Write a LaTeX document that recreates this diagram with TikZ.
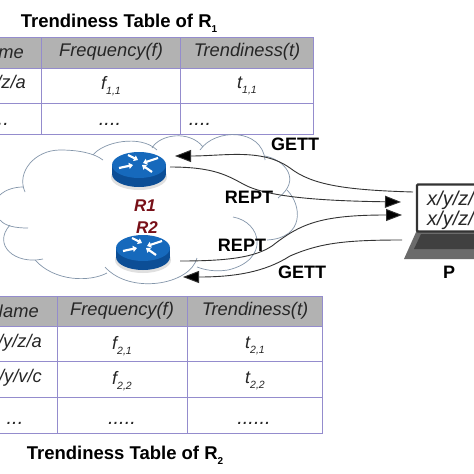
\documentclass[tikz,border=0pt]{standalone}
\usepackage{fontspec}
\setmainfont{Liberation Sans}
\usetikzlibrary{arrows.meta,calc}
\definecolor{gridline}{RGB}{148,140,205}
\definecolor{headgray}{RGB}{178,178,178}
\definecolor{cloudline}{RGB}{132,150,170}
\definecolor{routerdark}{RGB}{12,78,150}
\definecolor{routertop}{RGB}{22,105,188}
\definecolor{rlabel}{RGB}{120,16,24}
\tikzset{
  cell/.style={font=\itshape\fontsize{18.3}{21}\selectfont,text=black!85,inner sep=0pt},
  headcell/.style={cell},
  dotcell/.style={cell,font=\itshape\fontsize{20}{22}\selectfont},
  tabtitle/.style={font=\bfseries\fontsize{18.5}{21}\selectfont,inner sep=0pt},
  msg/.style={font=\bfseries\fontsize{18}{21}\selectfont,inner sep=0pt},
  rname/.style={font=\bfseries\itshape\fontsize{17}{20}\selectfont,text=rlabel,inner sep=0pt},
  pathtext/.style={cell,anchor=west,font=\itshape\fontsize{20}{22}\selectfont},
  cloudarc/.style={cloudline,line width=.7pt},
  link/.style={black!80,line width=.9pt,-{Triangle[length=16pt,width=12pt,fill=black]}},
  arrowmark/.style={white,line width=2.2pt,-{Triangle[length=4pt,width=6pt]}},
}
\newcommand{\subbed}[2]{{\fontsize{18}{20}\selectfont #1}\raisebox{-5pt}{\fontsize{10.5}{11}\selectfont #2}}
\newcommand{\tabsub}[1]{\raisebox{-5pt}{\fontsize{10}{10}\selectfont #1}}
% router drawn round the named node #1
\newcommand{\routerdisc}[3]{
  \node[inner sep=0pt,minimum width=54pt,minimum height=34pt] (#1) at (#2,#3) {};
  \fill[black!12] (#2,#3+7) ellipse (28 and 13);
  \fill[routerdark] (#2,#3+4) ellipse (27 and 13);
  \fill[routerdark] (#2-27,#3-5) rectangle (#2+27,#3+4);
  \fill[routertop] (#2,#3-5) ellipse (27 and 13);
  \draw[arrowmark] (#2-20,#3-2) -- (#2-6,#3-5);
  \draw[arrowmark] (#2+19,#3-12) -- (#2+4,#3-7);
  \draw[arrowmark] (#2-11,#3-15) -- (#2-1,#3-10);
  \draw[arrowmark] (#2+13,#3+2) -- (#2+3,#3-5);
}
\begin{document}
\begin{tikzpicture}[x=1pt,y=-1pt]
  \useasboundingbox (0,0) rectangle (474,474);
  \clip (0,0) rectangle (474,474);
  \fill[white] (0,0) rectangle (474,474);

  % table of R1
  \node[tabtitle] (titleone) at (119,23) {Trendiness Table of R\tabsub{1}};
  \fill[headgray] (-2,37) rectangle (313,68);
  \draw[gridline] (-2,37) rectangle (313,134);
  \draw[gridline] (-2,68) -- (313,68) (-2,103) -- (313,103);
  \draw[gridline] (41.5,37) -- (41.5,134) (180.5,37) -- (180.5,134);
  \node[headcell,anchor=east] (onehname) at (24,52) {Name};
  \node[headcell] (onehfreq) at (111,52) {Frequency(f)};
  \node[headcell] (onehtrend) at (247,52) {Trendiness(t)};
  \node[cell,anchor=east] (onename) at (26,84) {x/y/z/a};
  \node[cell] (onefreq) at (111,86) {\subbed{f}{1,1}};
  \node[cell] (onetrend) at (247,86) {\subbed{t}{1,1}};
  \node[dotcell,anchor=east] (onedotsa) at (9,124) {....};
  \node[dotcell] (onedotsb) at (110,124) {....};
  \node[dotcell] (onedotsc) at (200,124) {....};

  % cloud
  \draw[cloudarc] (0,195) .. controls (5,190) and (14,187) .. (23,187);
  \draw[cloudarc] (25,192) .. controls (16,172) and (35,150) .. (60,150) .. controls (78,150) and (94,153) .. (103,160);
  \draw[cloudarc] (93,155) .. controls (103,142) and (140,134) .. (157,150);
  \draw[cloudarc] (152,148) .. controls (160,134) and (190,130) .. (203,147);
  \draw[cloudarc] (200,150) .. controls (215,128) and (262,128) .. (265,160);
  \draw[cloudarc] (265,156) .. controls (285,160) and (302,180) .. (278,198);
  \draw[cloudarc] (287,190) .. controls (302,205) and (305,238) .. (267,240);
  \draw[cloudarc] (233,217) .. controls (262,222) and (270,260) .. (228,270) .. controls (215,272) and (205,270) .. (197,267);
  \draw[cloudarc] (197,258) .. controls (190,285) and (130,295) .. (105,267);
  \draw[cloudarc] (107,273) .. controls (90,282) and (55,282) .. (35,260);
  \draw[cloudarc] (43,259) .. controls (15,265) and (-8,245) .. (10,225);
  \draw[cloudarc] (0,220) .. controls (5,226) and (15,228) .. (28,228);

  % routers
  \routerdisc{routerone}{139}{170}
  \routerdisc{routertwo}{143}{253}
  \node[rname] (rone) at (145,206) {R1};
  \node[rname] (rtwo) at (147,228) {R2};

  % laptop
  \fill[black!58] (417,230) -- (404,259) -- (474,259) -- (474,230) -- cycle;
  \fill[black!75] (421,234) -- (414,249) -- (474,249) -- (474,234) -- cycle;
  \node[draw=black!80,line width=2.2pt,fill=white,rounded corners=1pt,minimum width=70pt,minimum height=47pt,
    inner sep=0pt] (screen) at (452,208) {};
  \node[pathtext] (pathone) at (427,200) {x/y/z/a};
  \node[pathtext] (pathtwo) at (427,220) {x/y/z/c};
  \node[msg] (plabel) at (449,272) {P};

  % messages
  \coordinate (gettoutone) at (413,192);
  \coordinate (gettinone) at (175,156);
  \coordinate (reptoutone) at (170,167);
  \coordinate (reptinone) at (401,202);
  \coordinate (reptouttwo) at (180,261);
  \coordinate (reptintwo) at (402,215);
  \coordinate (gettouttwo) at (402,240);
  \coordinate (gettintwo) at (183,277);
  \draw[link] (gettoutone) .. controls (345,190) and (312,185) .. (290,168) .. controls (262,148) and (225,156) .. (gettinone);
  \draw[link] (reptoutone) .. controls (215,167) and (228,176) .. (245,185) .. controls (270,198) and (330,201) .. (reptinone);
  \draw[link] (reptouttwo) .. controls (230,261) and (255,257) .. (272,246) .. controls (300,224) and (320,215) .. (reptintwo);
  \draw[link] (gettouttwo) .. controls (345,240) and (320,243) .. (290,256) .. controls (265,272) and (235,277) .. (gettintwo);
  \node[msg] (gettone) at (295,144) {GETT};
  \node[msg] (reptone) at (249,197) {REPT};
  \node[msg] (repttwo) at (242,245) {REPT};
  \node[msg] (getttwo) at (302,272) {GETT};

  % table of R2
  \fill[headgray] (-2,296) rectangle (322,326);
  \draw[gridline] (-2,296) rectangle (322,433);
  \draw[gridline] (-2,326) -- (322,326) (-2,361) -- (322,361) (-2,397) -- (322,397);
  \draw[gridline] (57,296) -- (57,433) (187,296) -- (187,433);
  \node[headcell,anchor=east] (twohname) at (39,311) {Name};
  \node[headcell] (twohfreq) at (122,311) {Frequency(f)};
  \node[headcell] (twohtrend) at (255,311) {Trendiness(t)};
  \node[cell,anchor=east] (twonamea) at (42,343) {x/y/z/a};
  \node[cell] (twofreqa) at (122,346) {\subbed{f}{2,1}};
  \node[cell] (twotrenda) at (255,346) {\subbed{t}{2,1}};
  \node[cell,anchor=east] (twonameb) at (42,378) {x/y/v/c};
  \node[cell] (twofreqb) at (122,381) {\subbed{f}{2,2}};
  \node[cell] (twotrendb) at (255,381) {\subbed{t}{2,2}};
  \node[dotcell] (twodotsa) at (15,423) {...};
  \node[dotcell] (twodotsb) at (122,423) {.....};
  \node[dotcell] (twodotsc) at (254,423) {......};
  \node[tabtitle] (titletwo) at (125,455) {Trendiness Table of R\tabsub{2}};
\end{tikzpicture}
\end{document}
